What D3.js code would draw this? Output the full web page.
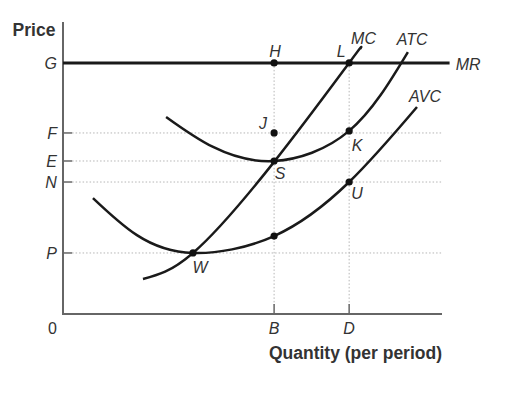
<!DOCTYPE html>
<html>
<head>
<meta charset="utf-8">
<script src="https://cdn.jsdelivr.net/npm/d3@7"></script>
<style>
  body { margin: 0; background: #fff; }
  text { font-family: "Liberation Sans", Arial, sans-serif; fill: #333; }
  .lbl { font-style: italic; font-size: 16px; }
  .ttl { font-weight: bold; font-size: 17.5px; }
</style>
</head>
<body>
<svg id="chart" width="518" height="406"></svg>
<script>
// price levels and quantity levels (0-100 scale on both axes)
var priceTicks = [
  { name: 'G', value: 86 },
  { name: 'F', value: 62 },
  { name: 'E', value: 52.4 },
  { name: 'N', value: 45.2 },
  { name: 'P', value: 20.9 }
];
var qtyTicks = [
  { name: 'B', value: 55.7 },
  { name: 'D', value: 75.5 }
];

// cost curves [quantity, price]
var mcCurve = [[21.1, 12.0], [34.3, 20.9], [55.7, 52.1], [75.5, 86.0], [78.4, 90.8]];
var atcCurve = [[27.2, 67.5], [39.6, 57.2], [55.7, 52.4], [75.5, 62.7], [91.0, 89.7]];
var avcCurve = [[7.9, 39.7], [19.5, 27.0], [34.3, 20.9], [55.7, 26.7], [75.5, 45.2], [93.4, 70.9]];
var mrLevel = 86;
var mrEnd = 102;

// labelled points: name, quantity, price, label offset
var marks = [
  { name: 'H', q: 55.7, p: 86, dx: 1, dy: -12 },
  { name: 'L', q: 75.5, p: 86, dx: -8, dy: -12 },
  { name: 'J', q: 55.7, p: 62, dx: -11, dy: -10 },
  { name: 'K', q: 75.5, p: 62.7, dx: 8, dy: 14 },
  { name: 'S', q: 55.7, p: 52.4, dx: 6, dy: 12 },
  { name: 'U', q: 75.5, p: 45.2, dx: 8, dy: 11 },
  { name: 'W', q: 34.3, p: 20.9, dx: 7, dy: 14 },
  { name: '', q: 55.7, p: 26.7 }
];
var curveLabels = [
  { name: 'MC', q: 79.3, p: 94.5 },
  { name: 'ATC', q: 92.1, p: 94.2 },
  { name: 'MR', q: 106.9, p: 85.6 },
  { name: 'AVC', q: 95.5, p: 74.7 }
];

var svg = d3.select('#chart');
var x = d3.scaleLinear().domain([0, 100]).range([63, 442]);
var y = d3.scaleLinear().domain([0, 100]).range([314, 22]);

// dotted guides
var guides = svg.append('g').attr('stroke', '#b5b5b5').attr('stroke-width', 1).attr('stroke-dasharray', '1.5,2');
priceTicks.slice(1).forEach(function(t) {
  guides.append('line').attr('x1', x(2.4)).attr('x2', x(100)).attr('y1', y(t.value)).attr('y2', y(t.value));
});
qtyTicks.forEach(function(t) {
  guides.append('line').attr('x1', x(t.value)).attr('x2', x(t.value)).attr('y1', y(mrLevel)).attr('y2', y(3));
});

// axes
var axes = svg.append('g').attr('stroke', '#666').attr('stroke-width', 2).attr('fill', 'none');
axes.append('path').attr('d', 'M' + x(0) + ',' + y(100) + 'V' + y(0) + 'H' + x(100));
priceTicks.slice(1).forEach(function(t) {
  axes.append('line').attr('x1', x(0)).attr('x2', x(2.4)).attr('y1', y(t.value)).attr('y2', y(t.value)).attr('stroke-width', 1.5);
});
qtyTicks.forEach(function(t) {
  axes.append('line').attr('x1', x(t.value)).attr('x2', x(t.value)).attr('y1', y(0)).attr('y2', y(3.4)).attr('stroke-width', 1.5);
});

// tick labels
svg.selectAll('text.ptick').data(priceTicks).enter().append('text')
  .attr('class', 'lbl ptick').attr('x', x(-1.6)).attr('y', function(d) { return y(d.value); })
  .attr('dy', '0.36em').attr('text-anchor', 'end').text(function(d) { return d.name; });
svg.selectAll('text.qtick').data(qtyTicks).enter().append('text')
  .attr('class', 'lbl qtick').attr('x', function(d) { return x(d.value); }).attr('y', y(-4.8))
  .attr('dy', '0.36em').attr('text-anchor', 'middle').text(function(d) { return d.name; });
svg.append('text').attr('class', 'lbl').attr('x', x(-1.6)).attr('y', y(-4.8)).attr('dy', '0.36em')
  .attr('text-anchor', 'end').style('font-style', 'normal').text('0');
svg.append('text').attr('class', 'ttl').attr('x', x(-2)).attr('y', 36).attr('text-anchor', 'end').text('Price');
svg.append('text').attr('class', 'ttl').attr('x', x(100)).attr('y', 359).attr('text-anchor', 'end').text('Quantity (per period)');

// MR line
svg.append('line').attr('x1', x(0)).attr('x2', x(mrEnd)).attr('y1', y(mrLevel)).attr('y2', y(mrLevel))
  .attr('stroke', '#1a1a1a').attr('stroke-width', 3);

// curves
var line = d3.line().x(function(d) { return x(d[0]); }).y(function(d) { return y(d[1]); })
  .curve(d3.curveNatural);
svg.selectAll('path.cost').data([mcCurve, atcCurve, avcCurve]).enter().append('path')
  .attr('class', 'cost').attr('d', line).attr('fill', 'none')
  .attr('stroke', '#1a1a1a').attr('stroke-width', 2.5);

// points
svg.selectAll('circle.pt').data(marks).enter().append('circle')
  .attr('class', 'pt').attr('cx', function(d) { return x(d.q); }).attr('cy', function(d) { return y(d.p); })
  .attr('r', 3.6).attr('fill', '#111');
svg.selectAll('text.ptlbl').data(marks.filter(function(d) { return d.name; })).enter().append('text')
  .attr('class', 'lbl ptlbl').attr('x', function(d) { return x(d.q) + d.dx; })
  .attr('y', function(d) { return y(d.p) + d.dy; }).attr('dy', '0.36em')
  .attr('text-anchor', 'middle').text(function(d) { return d.name; });

// curve names
svg.selectAll('text.clbl').data(curveLabels).enter().append('text')
  .attr('class', 'lbl clbl').attr('x', function(d) { return x(d.q); }).attr('y', function(d) { return y(d.p); })
  .attr('dy', '0.36em').attr('text-anchor', 'middle').text(function(d) { return d.name; });
</script>
</body>
</html>
